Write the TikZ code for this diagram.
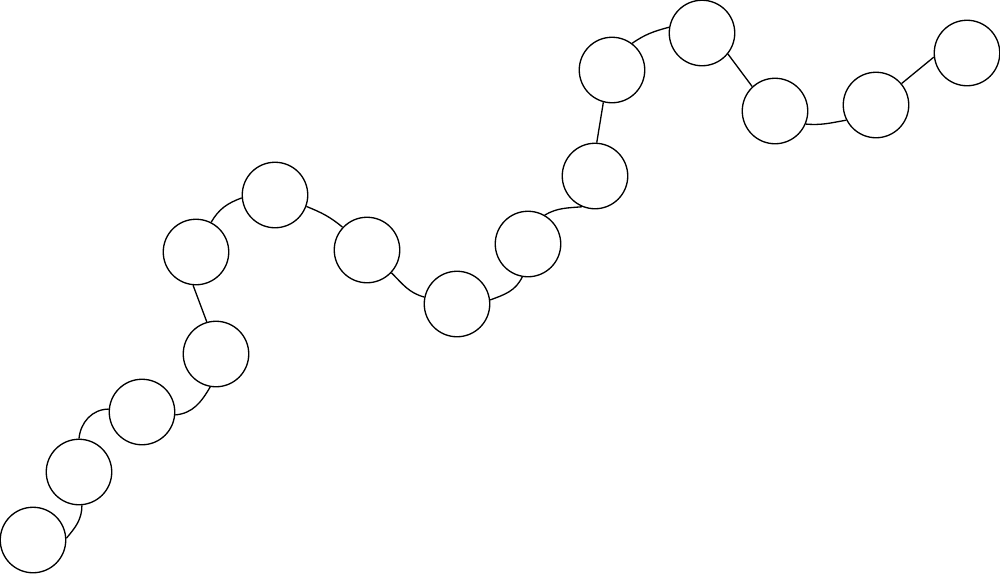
\documentclass[tikz,border=0pt]{standalone}
\usetikzlibrary{positioning}

\begin{document}
\begin{tikzpicture}[x=0.2mm, y=-0.2mm]
      \tikzstyle{bead} =  [circle, draw, line width=0.75pt, minimum size=13.1mm, inner sep=0pt]
      \tikzstyle{link} =  [line width=0.75pt]

      \useasboundingbox (0,0) rectangle (1000,573);

      \node (c1) [bead] at (33,540) {};
      \node (c2) [bead] at (79,472) {};
      \node (c3) [bead] at (142,412) {};
      \node (c4) [bead] at (216,354) {};
      \node (c5) [bead] at (196,252) {};
      \node (c6) [bead] at (275,195) {};
      \node (c7) [bead] at (367,250) {};
      \node (c8) [bead] at (457,304) {};
      \node (c9) [bead] at (528,244) {};
      \node (c10) [bead] at (595,176) {};
      \node (c11) [bead] at (612,70) {};
      \node (c12) [bead] at (702,33) {};
      \node (c13) [bead] at (775,111) {};
      \node (c14) [bead] at (876,105) {};
      \node (c15) [bead] at (967,53) {};

      \draw [link] (c1.3) to[out=50, in=-90] (c2.-85);
      \draw [link] (c2.90) to[out=85, in=180] (c3.175);
      \draw [link] (c3.-5) to[out=5, in=-120] (c4.-100);
      \draw [link] (c4.106) -- (c5.-95);
      \draw [link] (c5.63) to[out=60, in=200] (c6.185);
      \draw [link] (c6.-20) to[out=-22, in=140] (c7.137);
      \draw [link] (c7.-43) to[out=-45, in=165] (c8.168);
      \draw [link] (c8.7) to[out=20, in=-115] (c9.-100);
      \draw [link] (c9.60) to[out=30, in=185] (c10.-113);
      \draw [link] (c10.87) -- (c11.-105);
      \draw [link] (c11.53) to[out=35, in=195] (c12.170);
      \draw [link] (c12.-39) -- (c13.133);
      \draw [link] (c13.-23) to[out=-5, in=190] (c14.-153);
      \draw [link] (c14.40) -- (c15.-173);
    \end{tikzpicture}
\end{document}
